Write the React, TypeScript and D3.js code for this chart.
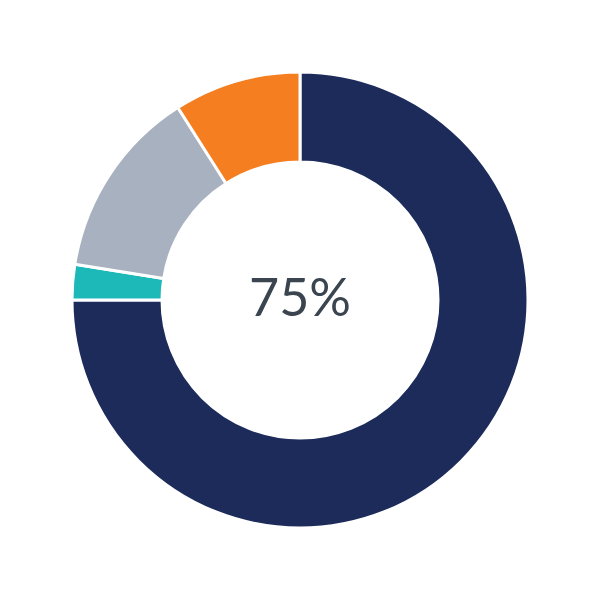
import React, { useEffect, useRef } from 'react';
import * as d3 from 'd3';

const categories = ['A', 'B', 'C', 'D'];
const values = [75, 2.5, 13.5, 9];
const colors = ['#1c2b5a', '#1db8b8', '#a8b1bf', '#f47e20'];
const centerLabel = '75%';

const App: React.FC = () => {
    const ref = useRef<SVGSVGElement>(null);

    const width = 600;
    const height = 600;
    const outer = 228;
    const inner = 138;

    useEffect(() => {
        const svg = d3.select(ref.current);
        svg.selectAll('*').remove();

        const g = svg.append('g')
            .attr('transform', 'translate(' + width / 2 + ',' + height / 2 + ')');

        const data = categories.map((c, i) => ({ name: c, value: values[i], color: colors[i] }));

        const pie = d3.pie<any>()
            .value((d) => d.value)
            .sort(null);

        const arc = d3.arc<any>()
            .innerRadius(inner)
            .outerRadius(outer);

        g.selectAll('path')
            .data(pie(data))
            .enter()
            .append('path')
            .attr('d', arc)
            .attr('fill', (d) => d.data.color)
            .attr('stroke', '#ffffff')
            .attr('stroke-width', 3);

        g.append('text')
            .attr('text-anchor', 'middle')
            .attr('dy', '0.3em')
            .style('font-family', 'Lato, "Open Sans", sans-serif')
            .style('font-size', '52px')
            .attr('fill', '#3a4550')
            .text(centerLabel);
    }, []);

    return (
        <svg ref={ref} width={width} height={height}
            style={{ position: 'absolute', left: 0, top: 0 }} />
    );
};

export default App;
